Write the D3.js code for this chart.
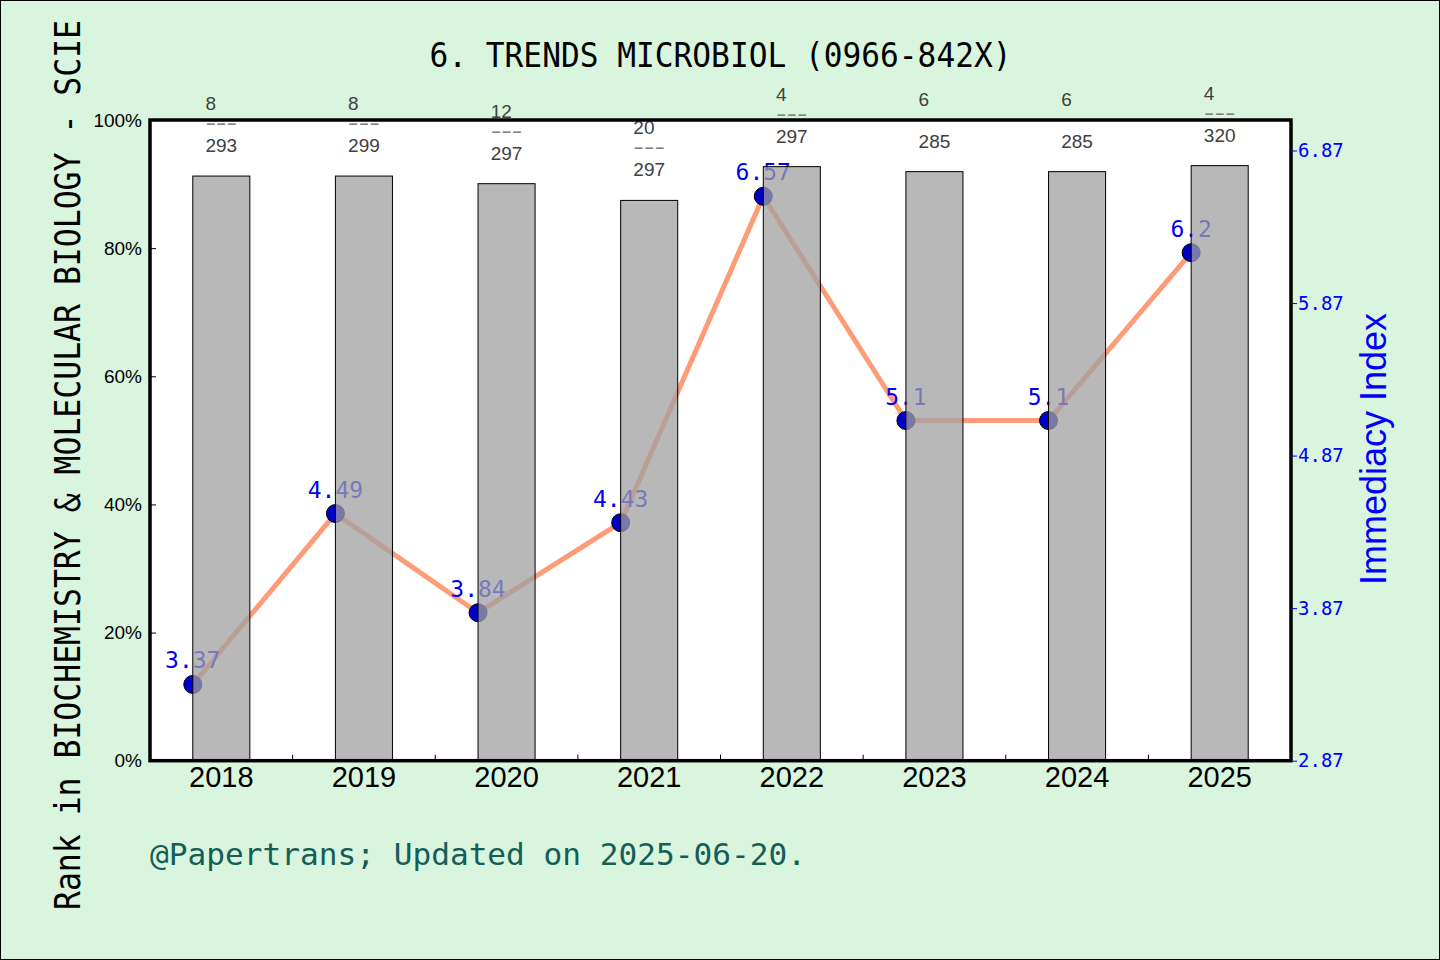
<!DOCTYPE html>
<html>
<head>
<meta charset="utf-8">
<script src="https://cdn.jsdelivr.net/npm/d3@7"></script>
<style>
  html, body { margin: 0; padding: 0; background: #daf5dd; }
  svg { display: block; }
</style>
</head>
<body>
<div id="root"></div>
<script>

// values
const years = ["2018", "2019", "2020", "2021", "2022", "2023", "2024", "2025"]
const rank_num = [8, 8, 12, 20, 4, 6, 6, 4]
const rank_total = [293, 299, 297, 297, 297, 285, 285, 320]
// bar heights as drawn (percent of the left axis)
const bar_pct = [91.25, 91.25, 90.06, 87.45, 92.72, 91.94, 91.94, 92.88]
const immediacy = [3.37, 4.49, 3.84, 4.43, 6.57, 5.1, 5.1, 6.2]
const left_ticks = [0, 20, 40, 60, 80, 100]
const right_ticks = [2.87, 3.87, 4.87, 5.87, 6.87]

const chart = {

  setup(base_node){
    this.width = 1440
    this.height = 960
    this.plot = {left: 150, right: 1291, top: 120, bottom: 760.7}

    this.svg = base_node.append("svg")
      .attr("width", this.width)
      .attr("height", this.height)

    this.x_scale = d3.scaleBand()
      .domain(years)
      .range([this.plot.left, this.plot.right])

    this.y_left = d3.scaleLinear()
      .domain([0, 100])
      .range([this.plot.bottom, this.plot.top])

    this.y_right = d3.scaleLinear()
      .domain([d3.min(immediacy) - 0.5, d3.max(immediacy) + 0.5])
      .range([this.plot.bottom, this.plot.top])
  },

  render(){
    const svg = this.svg
    const p = this.plot
    const bw = this.x_scale.bandwidth()
    const bar_w = bw * 0.4

    svg.append("rect")
      .attr("x", 0.5).attr("y", 0.5)
      .attr("width", this.width - 1).attr("height", this.height - 1)
      .attr("fill", "#daf5dd").attr("stroke", "#000")

    svg.append("rect")
      .attr("x", p.left).attr("y", p.top)
      .attr("width", p.right - p.left).attr("height", p.bottom - p.top)
      .attr("fill", "#fff")

    // line + points go underneath the bars
    const pt_x = d => this.x_scale(d) + bw * 0.3
    const line_data = years.map((y, i) => [pt_x(y), this.y_right(immediacy[i])])

    svg.append("path")
      .attr("d", d3.line()(line_data))
      .attr("fill", "none")
      .attr("stroke", "#ff9c78")
      .attr("stroke-width", 5)
      .attr("stroke-linejoin", "round")

    svg.append("g").selectAll("circle")
      .data(years)
      .enter()
      .append("circle")
      .attr("cx", d => pt_x(d))
      .attr("cy", (d, i) => this.y_right(immediacy[i]))
      .attr("r", 9)
      .attr("fill", "#0000c8")
      .attr("stroke", "#000")
      .attr("stroke-width", 1)

    svg.append("g").selectAll("text")
      .data(years)
      .enter()
      .append("text")
      .attr("x", d => pt_x(d))
      .attr("y", (d, i) => this.y_right(immediacy[i]) - 16)
      .attr("text-anchor", "middle")
      .style("font-family", "'DejaVu Sans Mono', monospace")
      .style("font-size", "23px")
      .attr("fill", "#0000ff")
      .text((d, i) => immediacy[i])

    // bars on top, a bit see-through
    svg.append("g").selectAll("rect")
      .data(years)
      .enter()
      .append("rect")
      .attr("x", d => this.x_scale(d) + (bw - bar_w) / 2)
      .attr("y", (d, i) => this.y_left(bar_pct[i]))
      .attr("width", bar_w)
      .attr("height", (d, i) => p.bottom - this.y_left(bar_pct[i]))
      .attr("fill", "rgba(160,160,162,0.75)")
      .attr("stroke", "#000")
      .attr("stroke-width", 1)

    // rank labels above bars: num / --- / total
    const lab = svg.append("g")
    years.forEach((y, i) => {
      const cx = this.x_scale(y) + bw / 2
      const top = this.y_left(bar_pct[i])
      const den = lab.append("text")
        .attr("y", top - 24)
        .style("font-family", "'Liberation Sans', Arial, sans-serif")
        .style("font-size", "19px")
        .attr("fill", "#404040")
        .text(rank_total[i])
      const w = den.node().getComputedTextLength()
      const x0 = cx - w / 2
      den.attr("x", x0)
      lab.append("text")
        .attr("x", x0).attr("y", top - 66)
        .style("font-family", "'Liberation Sans', Arial, sans-serif")
        .style("font-size", "19px")
        .attr("fill", "#404040")
        .text(rank_num[i])
      lab.append("text")
        .attr("x", x0).attr("y", top - 46)
        .attr("textLength", w).attr("lengthAdjust", "spacingAndGlyphs")
        .style("font-family", "'DejaVu Sans', sans-serif")
        .style("font-size", "19px")
        .attr("fill", "#808080")
        .text("---")
    })

    // frame
    svg.append("rect")
      .attr("x", p.left).attr("y", p.top)
      .attr("width", p.right - p.left).attr("height", p.bottom - p.top)
      .attr("fill", "none").attr("stroke", "#000").attr("stroke-width", 3.5)

    // left axis (ticks point inward)
    const left_axis = svg.append("g")
      .attr("transform", "translate(" + p.left + ",0)")
      .call(d3.axisLeft(this.y_left).tickValues(left_ticks)
        .tickFormat(d => d + "%").tickSizeInner(-6).tickSizeOuter(0).tickPadding(14))
    left_axis.select(".domain").remove()
    left_axis.selectAll("text")
      .attr("x", -8)
      .style("font-family", "'Liberation Sans', Arial, sans-serif")
      .style("font-size", "19px")
      .attr("fill", "#000")

    // right axis
    const right_axis = svg.append("g")
      .attr("transform", "translate(" + p.right + ",0)")
      .call(d3.axisRight(this.y_right).tickValues(right_ticks)
        .tickFormat(d3.format(".2f")).tickSizeInner(6).tickSizeOuter(0).tickPadding(1))
    right_axis.select(".domain").remove()
    right_axis.selectAll("line").attr("stroke", "#0000ff")
    right_axis.selectAll("text")
      .style("font-family", "'DejaVu Sans Mono', monospace")
      .style("font-size", "19px")
      .attr("fill", "#0000ff")

    // bottom axis: labels at band centres, small inward ticks at band edges
    const bottom_axis = svg.append("g")
      .attr("transform", "translate(0," + p.bottom + ")")
      .call(d3.axisBottom(this.x_scale).tickSize(0).tickPadding(6))
    bottom_axis.select(".domain").remove()
    bottom_axis.selectAll("text")
      .style("font-family", "'Liberation Sans', Arial, sans-serif")
      .style("font-size", "29px")
      .attr("fill", "#000")

    svg.append("g").selectAll("line")
      .data(years.slice(1))
      .enter()
      .append("line")
      .attr("x1", d => this.x_scale(d)).attr("x2", d => this.x_scale(d))
      .attr("y1", p.bottom - 6).attr("y2", p.bottom)
      .attr("stroke", "#000")

    // titles
    svg.append("text")
      .attr("x", (p.left + p.right) / 2).attr("y", 67)
      .attr("text-anchor", "middle")
      .attr("textLength", 582).attr("lengthAdjust", "spacingAndGlyphs")
      .style("font-family", "'DejaVu Sans Mono', monospace")
      .style("font-size", "33px")
      .attr("fill", "#000")
      .text("6. TRENDS MICROBIOL (0966-842X)")

    svg.append("text")
      .attr("transform", "translate(80,465) rotate(-90)")
      .attr("text-anchor", "middle")
      .attr("textLength", 890).attr("lengthAdjust", "spacingAndGlyphs")
      .style("font-family", "'DejaVu Sans Mono', monospace")
      .style("font-size", "36px")
      .attr("fill", "#000")
      .text("Rank in BIOCHEMISTRY & MOLECULAR BIOLOGY - SCIE")

    svg.append("text")
      .attr("transform", "translate(1386,449) rotate(-90)")
      .attr("text-anchor", "middle")
      .style("font-family", "'Liberation Sans', Arial, sans-serif")
      .style("font-size", "36px")
      .attr("fill", "#0000ff")
      .text("Immediacy Index")

    svg.append("text")
      .attr("x", 150).attr("y", 865)
      .attr("textLength", 656).attr("lengthAdjust", "spacingAndGlyphs")
      .style("font-family", "'DejaVu Sans Mono', monospace")
      .style("font-size", "30px")
      .attr("fill", "#135e57")
      .text("@Papertrans; Updated on 2025-06-20.")
  }
}

const container = d3.select("#root")
chart.setup(container)
chart.render()

</script>
</body>
</html>
